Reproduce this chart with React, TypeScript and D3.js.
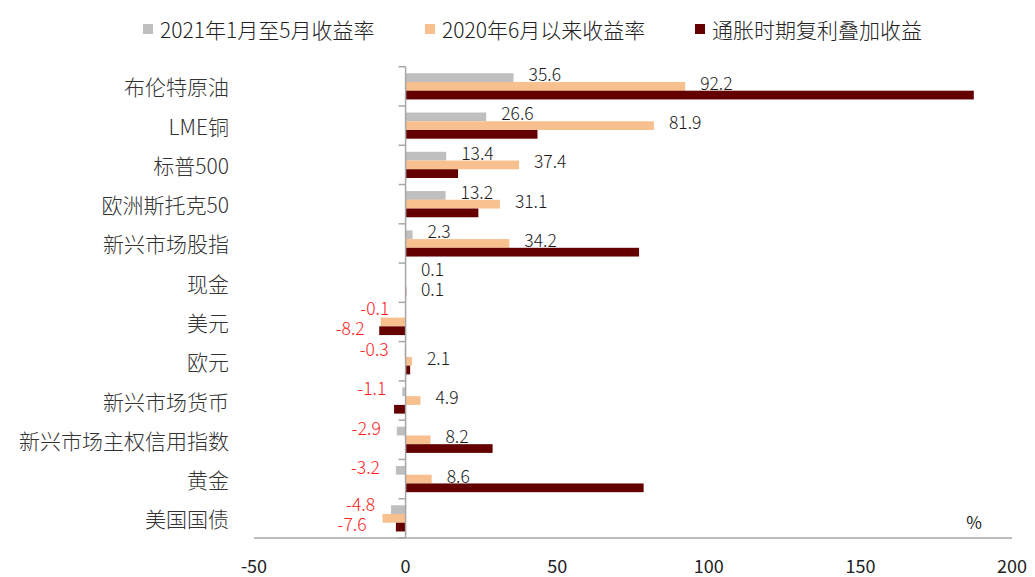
import React from "react";
import * as d3 from "d3";

const categories = [
  "布伦特原油", "LME铜", "标普500", "欧洲斯托克50", "新兴市场股指", "现金",
  "美元", "欧元", "新兴市场货币", "新兴市场主权信用指数", "黄金", "美国国债",
];
const seriesNames = ["2021年1月至5月收益率", "2020年6月以来收益率", "通胀时期复利叠加收益"];
const ytd2021 = [35.6, 26.6, 13.4, 13.2, 2.3, 0.1, -0.1, -0.3, -1.1, -2.9, -3.2, -4.8];
const since2020 = [92.2, 81.9, 37.4, 31.1, 34.2, 0.1, -8.2, 2.1, 4.9, 8.2, 8.6, -7.6];
const inflationCompound = [187.4, 43.5, 17.3, 24, 77, 0.2, -8.7, 1.5, -3.8, 28.7, 78.5, -3.2];
const xTicks = [-50, 0, 50, 100, 150, 200];
const colors = ["#BFBFBF", "#F9C08F", "#640000"];

const FONT = "'Noto Sans CJK SC', 'Noto Sans', sans-serif";

export default function App() {
  const W = 1035, H = 577;
  const x = d3.scaleLinear().domain([-50, 200]).range([254, 1012]);
  const y = d3.scaleBand<string>().domain(categories).range([66.7, 538]).padding(0);
  const bw = y.bandwidth();
  const unit = bw / 4.5;
  const inner = d3.scaleBand<number>().domain([0, 1, 2]).range([0.75 * unit, 3.75 * unit]).padding(0);
  const series = [ytd2021, since2020, inflationCompound];
  const x0 = x(0);

  const labels: any[] = [];
  categories.forEach((c, i) => {
    const pos: any[] = [];
    [0, 1].forEach((s) => {
      const v = series[s][i];
      const cy = (y(c) as number) + (inner(s) as number) + inner.bandwidth() / 2 - 4;
      const neg = v < 0;
      const lx = neg ? x(v) - 16 : x(v) + 15;
      pos.push({ v, cy, lx, neg, s });
    });
    const [a, b] = pos;
    if (a.neg === b.neg && Math.abs(a.lx - b.lx) < 40) {
      const mid = (a.cy + b.cy) / 2 + 4;
      a.cy = mid - 10;
      b.cy = mid + 10;
    }
    labels.push(...pos.map((p) => ({ ...p, key: c + p.s })));
  });

  const boundaries = d3.range(categories.length + 1).map((k) => 66.7 + k * bw);

  return (
    <svg width={W} height={H} style={{ position: "absolute", left: 0, top: 0, background: "#fff" }} fontFamily={FONT} fontWeight={300}>
      {/* Legend */}
      {[143, 425, 695].map((lx, s) => (
        <g key={s}>
          <rect x={lx} y={24} width={10} height={10} fill={colors[s]} />
          <text x={lx + 17} y={29} dominantBaseline="central" fontSize={21} fill="#222">
            {seriesNames[s]}
          </text>
        </g>
      ))}

      {/* Bars */}
      {categories.map((c, i) => (
        <g key={c}>
          {series.map((arr, s) => {
            const v = arr[i];
            return (
              <rect
                key={s}
                x={Math.min(x(v), x0)}
                y={(y(c) as number) + (inner(s) as number)}
                width={Math.abs(x(v) - x0)}
                height={inner.bandwidth()}
                fill={colors[s]}
              />
            );
          })}
        </g>
      ))}

      {/* Axes */}
      <line x1={254} x2={1012} y1={538} y2={538} stroke="#A6A6A6" strokeWidth={1.5} />
      <line x1={x0} x2={x0} y1={66.7} y2={538} stroke="#A6A6A6" strokeWidth={1.5} />
      {boundaries.map((b, k) => (
        <line key={k} x1={x0 - 7} x2={x0} y1={b} y2={b} stroke="#A6A6A6" strokeWidth={1.5} />
      ))}
      {xTicks.map((t) => (
        <text key={t} x={x(t)} y={565} textAnchor="middle" dominantBaseline="central" fontSize={18} fontWeight={400} fill="#222">
          {t}
        </text>
      ))}
      <text x={974} y={521} textAnchor="middle" dominantBaseline="central" fontSize={17} fontWeight={400} fill="#222">%</text>

      {/* Category labels */}
      {categories.map((c) => (
        <text
          key={c}
          x={229}
          y={(y(c) as number) + bw / 2}
          textAnchor="end"
          dominantBaseline="central"
          fontSize={21}
          fill="#333"
        >
          {c}
        </text>
      ))}

      {/* Value labels */}
      {labels.map((l) => (
        <text
          key={l.key}
          x={l.lx}
          y={l.cy}
          textAnchor={l.neg ? "end" : "start"}
          dominantBaseline="central"
          fontSize={17.5}
          fill={l.neg ? "#FF2020" : "#1a1a1a"}
        >
          {l.v.toFixed(1)}
        </text>
      ))}
    </svg>
  );
}
